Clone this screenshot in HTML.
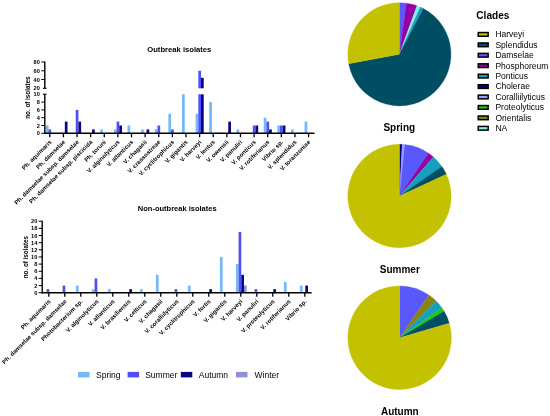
<!DOCTYPE html>
<html lang="en"><head><meta charset="utf-8"><title>Vibrio isolates by season and clade</title>
<style>html,body{margin:0;padding:0;background:#fff;overflow:hidden}svg{display:block}</style></head>
<body>
<svg width="550" height="416" viewBox="0 0 550 416" font-family='"Liberation Sans", Arial, Helvetica, sans-serif'>
<rect width="550" height="416" fill="#fff"/>
<g id="top-chart">
<text x="179.3" y="52" font-size="7.65" font-weight="bold" text-anchor="middle" fill="#000">Outbreak isolates</text>
<rect x="45.80" y="125.50" width="2.7" height="7.80" fill="#72b8fb"/>
<rect x="48.50" y="129.40" width="2.7" height="3.90" fill="#4f4ff7"/>
<rect x="64.82" y="121.60" width="2.7" height="11.70" fill="#08087f"/>
<rect x="75.74" y="109.90" width="2.7" height="23.40" fill="#4f4ff7"/>
<rect x="78.44" y="121.60" width="2.7" height="11.70" fill="#08087f"/>
<rect x="92.06" y="129.40" width="2.7" height="3.90" fill="#08087f"/>
<rect x="100.28" y="129.40" width="2.7" height="3.90" fill="#72b8fb"/>
<rect x="113.90" y="129.40" width="2.7" height="3.90" fill="#72b8fb"/>
<rect x="116.60" y="121.60" width="2.7" height="11.70" fill="#4f4ff7"/>
<rect x="119.30" y="125.50" width="2.7" height="7.80" fill="#08087f"/>
<rect x="127.52" y="125.50" width="2.7" height="7.80" fill="#72b8fb"/>
<rect x="141.14" y="129.40" width="2.7" height="3.90" fill="#72b8fb"/>
<rect x="146.54" y="129.40" width="2.7" height="3.90" fill="#08087f"/>
<rect x="154.76" y="129.40" width="2.7" height="3.90" fill="#72b8fb"/>
<rect x="157.46" y="125.50" width="2.7" height="7.80" fill="#4f4ff7"/>
<rect x="168.38" y="113.80" width="2.7" height="19.50" fill="#72b8fb"/>
<rect x="171.08" y="129.40" width="2.7" height="3.90" fill="#4f4ff7"/>
<rect x="182.00" y="94.30" width="2.7" height="39.00" fill="#72b8fb"/>
<rect x="195.62" y="113.80" width="2.7" height="19.50" fill="#72b8fb"/>
<rect x="198.32" y="94.30" width="2.7" height="39.00" fill="#4f4ff7"/>
<rect x="198.32" y="70.77" width="2.7" height="17.53" fill="#4f4ff7"/>
<rect x="201.02" y="94.30" width="2.7" height="39.00" fill="#08087f"/>
<rect x="201.02" y="77.78" width="2.7" height="10.52" fill="#08087f"/>
<rect x="209.24" y="102.10" width="2.7" height="31.20" fill="#72b8fb"/>
<rect x="228.26" y="121.60" width="2.7" height="11.70" fill="#08087f"/>
<rect x="236.48" y="129.40" width="2.7" height="3.90" fill="#72b8fb"/>
<rect x="252.80" y="125.50" width="2.7" height="7.80" fill="#4f4ff7"/>
<rect x="255.50" y="125.50" width="2.7" height="7.80" fill="#08087f"/>
<rect x="263.72" y="117.70" width="2.7" height="15.60" fill="#72b8fb"/>
<rect x="266.42" y="121.60" width="2.7" height="11.70" fill="#4f4ff7"/>
<rect x="269.12" y="129.40" width="2.7" height="3.90" fill="#08087f"/>
<rect x="277.34" y="125.50" width="2.7" height="7.80" fill="#72b8fb"/>
<rect x="280.04" y="125.50" width="2.7" height="7.80" fill="#4f4ff7"/>
<rect x="282.74" y="125.50" width="2.7" height="7.80" fill="#08087f"/>
<rect x="290.96" y="129.40" width="2.7" height="3.90" fill="#72b8fb"/>
<rect x="304.58" y="121.60" width="2.7" height="11.70" fill="#72b8fb"/>
<g stroke="#000" fill="none">
<line x1="44.8" y1="61.5" x2="44.8" y2="88.3" stroke-width="1.4"/>
<line x1="44.8" y1="94.2" x2="44.8" y2="134.0" stroke-width="1.4"/>
<line x1="42.9" y1="88.3" x2="46.6" y2="88.3" stroke-width="1.1"/>
<line x1="42.9" y1="94.2" x2="46.6" y2="94.2" stroke-width="1.1"/>
<line x1="44.099999999999994" y1="133.3" x2="314.5" y2="133.3" stroke-width="1.4"/>
<line x1="41.3" y1="62.00" x2="44.8" y2="62.00" stroke-width="1"/>
<line x1="41.3" y1="70.77" x2="44.8" y2="70.77" stroke-width="1"/>
<line x1="41.3" y1="79.53" x2="44.8" y2="79.53" stroke-width="1"/>
<line x1="41.3" y1="102.10" x2="44.8" y2="102.10" stroke-width="1"/>
<line x1="41.3" y1="109.90" x2="44.8" y2="109.90" stroke-width="1"/>
<line x1="41.3" y1="117.70" x2="44.8" y2="117.70" stroke-width="1"/>
<line x1="41.3" y1="125.50" x2="44.8" y2="125.50" stroke-width="1"/>
<line x1="41.3" y1="133.30" x2="44.8" y2="133.30" stroke-width="1"/>
<line x1="49.80" y1="133.3" x2="49.80" y2="137.3" stroke-width="1.3"/>
<line x1="63.42" y1="133.3" x2="63.42" y2="137.3" stroke-width="1.3"/>
<line x1="77.04" y1="133.3" x2="77.04" y2="137.3" stroke-width="1.3"/>
<line x1="90.66" y1="133.3" x2="90.66" y2="137.3" stroke-width="1.3"/>
<line x1="104.28" y1="133.3" x2="104.28" y2="137.3" stroke-width="1.3"/>
<line x1="117.90" y1="133.3" x2="117.90" y2="137.3" stroke-width="1.3"/>
<line x1="131.52" y1="133.3" x2="131.52" y2="137.3" stroke-width="1.3"/>
<line x1="145.14" y1="133.3" x2="145.14" y2="137.3" stroke-width="1.3"/>
<line x1="158.76" y1="133.3" x2="158.76" y2="137.3" stroke-width="1.3"/>
<line x1="172.38" y1="133.3" x2="172.38" y2="137.3" stroke-width="1.3"/>
<line x1="186.00" y1="133.3" x2="186.00" y2="137.3" stroke-width="1.3"/>
<line x1="199.62" y1="133.3" x2="199.62" y2="137.3" stroke-width="1.3"/>
<line x1="213.24" y1="133.3" x2="213.24" y2="137.3" stroke-width="1.3"/>
<line x1="226.86" y1="133.3" x2="226.86" y2="137.3" stroke-width="1.3"/>
<line x1="240.48" y1="133.3" x2="240.48" y2="137.3" stroke-width="1.3"/>
<line x1="254.10" y1="133.3" x2="254.10" y2="137.3" stroke-width="1.3"/>
<line x1="267.72" y1="133.3" x2="267.72" y2="137.3" stroke-width="1.3"/>
<line x1="281.34" y1="133.3" x2="281.34" y2="137.3" stroke-width="1.3"/>
<line x1="294.96" y1="133.3" x2="294.96" y2="137.3" stroke-width="1.3"/>
<line x1="308.58" y1="133.3" x2="308.58" y2="137.3" stroke-width="1.3"/>
</g>
<g font-size="6" font-weight="bold" fill="#000">
<text x="39.9" y="64.00" text-anchor="end" font-size="5.65">80</text>
<text x="39.9" y="72.77" text-anchor="end" font-size="5.65">60</text>
<text x="39.9" y="81.53" text-anchor="end" font-size="5.65">40</text>
<text x="39.9" y="90.30" text-anchor="end" font-size="5.65">20</text>
<text x="39.9" y="96.30" text-anchor="end" font-size="5.65">10</text>
<text x="39.9" y="104.10" text-anchor="end" font-size="5.65">8</text>
<text x="39.9" y="111.90" text-anchor="end" font-size="5.65">6</text>
<text x="39.9" y="119.70" text-anchor="end" font-size="5.65">4</text>
<text x="39.9" y="127.50" text-anchor="end" font-size="5.65">2</text>
<text x="39.9" y="135.30" text-anchor="end" font-size="5.65">0</text>
<text transform="translate(29.7,97.6) rotate(-90)" text-anchor="middle" font-size="6.3">no. of isolates</text>
<text transform="translate(52.00,142.50) rotate(-45)" text-anchor="end">Ph. aquimaris</text>
<text transform="translate(65.62,142.50) rotate(-45)" text-anchor="end">Ph. damselae</text>
<text transform="translate(79.24,142.50) rotate(-45)" text-anchor="end">Ph. damselae subsp. damselae</text>
<text transform="translate(92.86,142.50) rotate(-45)" text-anchor="end">Ph. damselae subsp. piscicida</text>
<text transform="translate(106.48,142.50) rotate(-45)" text-anchor="end">Ph. toruni</text>
<text transform="translate(120.10,142.50) rotate(-45)" text-anchor="end">V. alginolyticus</text>
<text transform="translate(133.72,142.50) rotate(-45)" text-anchor="end">V. atlanticus</text>
<text transform="translate(147.34,142.50) rotate(-45)" text-anchor="end">V. chagasii</text>
<text transform="translate(160.96,142.50) rotate(-45)" text-anchor="end">V. crassostreae</text>
<text transform="translate(174.58,142.50) rotate(-45)" text-anchor="end">V. cyclitrophicus</text>
<text transform="translate(188.20,142.50) rotate(-45)" text-anchor="end">V. gigantis</text>
<text transform="translate(201.82,142.50) rotate(-45)" text-anchor="end">V. harveyi</text>
<text transform="translate(215.44,142.50) rotate(-45)" text-anchor="end">V. lentus</text>
<text transform="translate(229.06,142.50) rotate(-45)" text-anchor="end">V. owensii</text>
<text transform="translate(242.68,142.50) rotate(-45)" text-anchor="end">V. panuliri</text>
<text transform="translate(256.30,142.50) rotate(-45)" text-anchor="end">V. ponticus</text>
<text transform="translate(269.92,142.50) rotate(-45)" text-anchor="end">V. rotiferianus</text>
<text transform="translate(283.54,142.50) rotate(-45)" text-anchor="end">Vibrio sp.</text>
<text transform="translate(297.16,142.50) rotate(-45)" text-anchor="end">V. splendidus</text>
<text transform="translate(310.78,142.50) rotate(-45)" text-anchor="end">V. toranzoniae</text>
</g>
</g>
<g id="bottom-chart">
<text x="177.2" y="210.9" font-size="7.5" font-weight="bold" text-anchor="middle" fill="#000">Non-outbreak isolates</text>
<rect x="46.60" y="289.12" width="2.7" height="3.58" fill="#4f4ff7"/>
<rect x="62.60" y="285.55" width="2.7" height="7.15" fill="#4f4ff7"/>
<rect x="75.90" y="285.55" width="2.7" height="7.15" fill="#72b8fb"/>
<rect x="91.90" y="289.12" width="2.7" height="3.58" fill="#72b8fb"/>
<rect x="94.60" y="278.40" width="2.7" height="14.30" fill="#4f4ff7"/>
<rect x="107.90" y="289.12" width="2.7" height="3.58" fill="#72b8fb"/>
<rect x="129.30" y="289.12" width="2.7" height="3.58" fill="#08087f"/>
<rect x="139.90" y="289.12" width="2.7" height="3.58" fill="#72b8fb"/>
<rect x="155.90" y="274.82" width="2.7" height="17.88" fill="#72b8fb"/>
<rect x="174.60" y="289.12" width="2.7" height="3.58" fill="#4f4ff7"/>
<rect x="187.90" y="285.55" width="2.7" height="7.15" fill="#72b8fb"/>
<rect x="209.30" y="289.12" width="2.7" height="3.58" fill="#08087f"/>
<rect x="219.90" y="256.95" width="2.7" height="35.75" fill="#72b8fb"/>
<rect x="235.90" y="264.10" width="2.7" height="28.60" fill="#72b8fb"/>
<rect x="238.60" y="231.92" width="2.7" height="60.78" fill="#4f4ff7"/>
<rect x="241.30" y="274.82" width="2.7" height="17.88" fill="#08087f"/>
<rect x="244.00" y="285.55" width="2.7" height="7.15" fill="#9090d6"/>
<rect x="254.60" y="289.12" width="2.7" height="3.58" fill="#4f4ff7"/>
<rect x="273.30" y="289.12" width="2.7" height="3.58" fill="#08087f"/>
<rect x="283.90" y="281.97" width="2.7" height="10.73" fill="#72b8fb"/>
<rect x="299.90" y="285.55" width="2.7" height="7.15" fill="#72b8fb"/>
<rect x="305.30" y="285.55" width="2.7" height="7.15" fill="#08087f"/>
<g stroke="#000" fill="none">
<line x1="42.2" y1="220.70" x2="42.2" y2="293.4" stroke-width="1.4"/>
<line x1="41.5" y1="292.7" x2="311.6" y2="292.7" stroke-width="1.4"/>
<line x1="38.7" y1="292.70" x2="42.2" y2="292.70" stroke-width="1"/>
<line x1="38.7" y1="285.55" x2="42.2" y2="285.55" stroke-width="1"/>
<line x1="38.7" y1="278.40" x2="42.2" y2="278.40" stroke-width="1"/>
<line x1="38.7" y1="271.25" x2="42.2" y2="271.25" stroke-width="1"/>
<line x1="38.7" y1="264.10" x2="42.2" y2="264.10" stroke-width="1"/>
<line x1="38.7" y1="256.95" x2="42.2" y2="256.95" stroke-width="1"/>
<line x1="38.7" y1="249.80" x2="42.2" y2="249.80" stroke-width="1"/>
<line x1="38.7" y1="242.65" x2="42.2" y2="242.65" stroke-width="1"/>
<line x1="38.7" y1="235.50" x2="42.2" y2="235.50" stroke-width="1"/>
<line x1="38.7" y1="228.35" x2="42.2" y2="228.35" stroke-width="1"/>
<line x1="38.7" y1="221.20" x2="42.2" y2="221.20" stroke-width="1"/>
<line x1="48.80" y1="292.7" x2="48.80" y2="296.7" stroke-width="1.3"/>
<line x1="64.80" y1="292.7" x2="64.80" y2="296.7" stroke-width="1.3"/>
<line x1="80.80" y1="292.7" x2="80.80" y2="296.7" stroke-width="1.3"/>
<line x1="96.80" y1="292.7" x2="96.80" y2="296.7" stroke-width="1.3"/>
<line x1="112.80" y1="292.7" x2="112.80" y2="296.7" stroke-width="1.3"/>
<line x1="128.80" y1="292.7" x2="128.80" y2="296.7" stroke-width="1.3"/>
<line x1="144.80" y1="292.7" x2="144.80" y2="296.7" stroke-width="1.3"/>
<line x1="160.80" y1="292.7" x2="160.80" y2="296.7" stroke-width="1.3"/>
<line x1="176.80" y1="292.7" x2="176.80" y2="296.7" stroke-width="1.3"/>
<line x1="192.80" y1="292.7" x2="192.80" y2="296.7" stroke-width="1.3"/>
<line x1="208.80" y1="292.7" x2="208.80" y2="296.7" stroke-width="1.3"/>
<line x1="224.80" y1="292.7" x2="224.80" y2="296.7" stroke-width="1.3"/>
<line x1="240.80" y1="292.7" x2="240.80" y2="296.7" stroke-width="1.3"/>
<line x1="256.80" y1="292.7" x2="256.80" y2="296.7" stroke-width="1.3"/>
<line x1="272.80" y1="292.7" x2="272.80" y2="296.7" stroke-width="1.3"/>
<line x1="288.80" y1="292.7" x2="288.80" y2="296.7" stroke-width="1.3"/>
<line x1="304.80" y1="292.7" x2="304.80" y2="296.7" stroke-width="1.3"/>
</g>
<g font-size="6" font-weight="bold" fill="#000">
<text x="37.400000000000006" y="294.70" text-anchor="end" font-size="5.65">0</text>
<text x="37.400000000000006" y="287.55" text-anchor="end" font-size="5.65">2</text>
<text x="37.400000000000006" y="280.40" text-anchor="end" font-size="5.65">4</text>
<text x="37.400000000000006" y="273.25" text-anchor="end" font-size="5.65">6</text>
<text x="37.400000000000006" y="266.10" text-anchor="end" font-size="5.65">8</text>
<text x="37.400000000000006" y="258.95" text-anchor="end" font-size="5.65">10</text>
<text x="37.400000000000006" y="251.80" text-anchor="end" font-size="5.65">12</text>
<text x="37.400000000000006" y="244.65" text-anchor="end" font-size="5.65">14</text>
<text x="37.400000000000006" y="237.50" text-anchor="end" font-size="5.65">16</text>
<text x="37.400000000000006" y="230.35" text-anchor="end" font-size="5.65">18</text>
<text x="37.400000000000006" y="223.20" text-anchor="end" font-size="5.65">20</text>
<text transform="translate(28.1,257.1) rotate(-90)" text-anchor="middle" font-size="6.3">no. of isolates</text>
<text transform="translate(51.00,301.90) rotate(-45)" text-anchor="end">Ph. aquimaris</text>
<text transform="translate(67.00,301.90) rotate(-45)" text-anchor="end">Ph. damselae subsp. damselae</text>
<text transform="translate(83.00,301.90) rotate(-45)" text-anchor="end">Photobacterium sp.</text>
<text transform="translate(99.00,301.90) rotate(-45)" text-anchor="end">V. alginolyticus</text>
<text transform="translate(115.00,301.90) rotate(-45)" text-anchor="end">V. atlanticus</text>
<text transform="translate(131.00,301.90) rotate(-45)" text-anchor="end">V. brasiliensis</text>
<text transform="translate(147.00,301.90) rotate(-45)" text-anchor="end">V. celticus</text>
<text transform="translate(163.00,301.90) rotate(-45)" text-anchor="end">V. chagasii</text>
<text transform="translate(179.00,301.90) rotate(-45)" text-anchor="end">V. coralliilyticus</text>
<text transform="translate(195.00,301.90) rotate(-45)" text-anchor="end">V. cyclitrophicus</text>
<text transform="translate(211.00,301.90) rotate(-45)" text-anchor="end">V. fortis</text>
<text transform="translate(227.00,301.90) rotate(-45)" text-anchor="end">V. gigantis</text>
<text transform="translate(243.00,301.90) rotate(-45)" text-anchor="end">V. harveyi</text>
<text transform="translate(259.00,301.90) rotate(-45)" text-anchor="end">V. panuliri</text>
<text transform="translate(275.00,301.90) rotate(-45)" text-anchor="end">V. proteolyticus</text>
<text transform="translate(291.00,301.90) rotate(-45)" text-anchor="end">V. rotiferianus</text>
<text transform="translate(307.00,301.90) rotate(-45)" text-anchor="end">Vibrio sp.</text>
</g>
</g>
<g id="season-legend" font-size="8.5" fill="#000">
<rect x="78" y="371.9" width="11.5" height="5.5" fill="#72b8fb"/>
<text x="96" y="377.7">Spring</text>
<rect x="127.6" y="371.9" width="11.5" height="5.5" fill="#4f4ff7"/>
<text x="145.2" y="377.7">Summer</text>
<rect x="180.8" y="371.9" width="11.5" height="5.5" fill="#08087f"/>
<text x="198.8" y="377.7">Autumn</text>
<rect x="236" y="371.9" width="11.5" height="5.5" fill="#9090d6"/>
<text x="254.5" y="377.7">Winter</text>
</g>
<g id="pies">
<path d="M399.4,54.3 L399.40,2.70 A51.6,51.6 0 0 1 406.49,3.19 Z" fill="#5858fc" stroke="#5858fc" stroke-width="0.3"/>
<path d="M399.4,54.3 L406.49,3.19 A51.6,51.6 0 0 1 416.96,5.78 Z" fill="#9400a3" stroke="#9400a3" stroke-width="0.3"/>
<path d="M399.4,54.3 L416.96,5.78 A51.6,51.6 0 0 1 420.31,7.12 Z" fill="#86efe6" stroke="#86efe6" stroke-width="0.3"/>
<path d="M399.4,54.3 L420.31,7.12 A51.6,51.6 0 0 1 423.39,8.61 Z" fill="#14a0be" stroke="#14a0be" stroke-width="0.3"/>
<path d="M399.4,54.3 L423.39,8.61 A51.6,51.6 0 1 1 348.68,63.79 Z" fill="#004e63" stroke="#004e63" stroke-width="0.3"/>
<path d="M399.4,54.3 L348.68,63.79 A51.6,51.6 0 0 1 399.40,2.70 Z" fill="#c4c100" stroke="#c4c100" stroke-width="0.3"/>
<path d="M399.5,196.0 L399.50,144.30 A51.7,51.7 0 0 1 402.21,144.37 Z" fill="#00008a" stroke="#00008a" stroke-width="0.3"/>
<path d="M399.5,196.0 L402.21,144.37 A51.7,51.7 0 0 1 404.81,144.57 Z" fill="#9d9dfb" stroke="#9d9dfb" stroke-width="0.3"/>
<path d="M399.5,196.0 L404.81,144.57 A51.7,51.7 0 0 1 428.49,153.19 Z" fill="#5858fc" stroke="#5858fc" stroke-width="0.3"/>
<path d="M399.5,196.0 L428.49,153.19 A51.7,51.7 0 0 1 433.42,156.98 Z" fill="#9400a3" stroke="#9400a3" stroke-width="0.3"/>
<path d="M399.5,196.0 L433.42,156.98 A51.7,51.7 0 0 1 441.90,166.42 Z" fill="#14a0be" stroke="#14a0be" stroke-width="0.3"/>
<path d="M399.5,196.0 L441.90,166.42 A51.7,51.7 0 0 1 446.36,174.15 Z" fill="#004e63" stroke="#004e63" stroke-width="0.3"/>
<path d="M399.5,196.0 L446.36,174.15 A51.7,51.7 0 1 1 399.50,144.30 Z" fill="#c4c100" stroke="#c4c100" stroke-width="0.3"/>
<path d="M399.6,337.7 L399.60,285.90 A51.8,51.8 0 0 1 428.94,295.01 Z" fill="#5858fc" stroke="#5858fc" stroke-width="0.3"/>
<path d="M399.6,337.7 L428.94,295.01 A51.8,51.8 0 0 1 436.16,301.01 Z" fill="#8a8214" stroke="#8a8214" stroke-width="0.3"/>
<path d="M399.6,337.7 L436.16,301.01 A51.8,51.8 0 0 1 441.82,307.69 Z" fill="#14a0be" stroke="#14a0be" stroke-width="0.3"/>
<path d="M399.6,337.7 L441.82,307.69 A51.8,51.8 0 0 1 444.19,311.33 Z" fill="#19c819" stroke="#19c819" stroke-width="0.3"/>
<path d="M399.6,337.7 L444.19,311.33 A51.8,51.8 0 0 1 449.32,323.16 Z" fill="#004e63" stroke="#004e63" stroke-width="0.3"/>
<path d="M399.6,337.7 L449.32,323.16 A51.8,51.8 0 1 1 399.60,285.90 Z" fill="#c4c100" stroke="#c4c100" stroke-width="0.3"/>
<g font-size="10" font-weight="bold" text-anchor="middle" fill="#000">
<text x="399.3" y="130.6">Spring</text>
<text x="399.8" y="272.8">Summer</text>
<text x="399.8" y="414.7">Autumn</text>
</g></g>
<g id="clades-legend">
<text x="476.3" y="18.8" font-size="10.1" font-weight="bold" fill="#000">Clades</text>
<g font-size="8.5" fill="#000">
<rect x="478.25" y="32.55" width="9.9" height="3.7" fill="#c4c100" stroke="#000" stroke-width="1.5"/>
<text x="495.4" y="37.30">Harveyi</text>
<rect x="478.25" y="42.98" width="9.9" height="3.7" fill="#004e63" stroke="#000" stroke-width="1.5"/>
<text x="495.4" y="47.73">Splendidus</text>
<rect x="478.25" y="53.41" width="9.9" height="3.7" fill="#5858fc" stroke="#000" stroke-width="1.5"/>
<text x="495.4" y="58.16">Damselae</text>
<rect x="478.25" y="63.84" width="9.9" height="3.7" fill="#9400a3" stroke="#000" stroke-width="1.5"/>
<text x="495.4" y="68.59">Phosphoreum</text>
<rect x="478.25" y="74.27" width="9.9" height="3.7" fill="#14a0be" stroke="#000" stroke-width="1.5"/>
<text x="495.4" y="79.02">Ponticus</text>
<rect x="478.25" y="84.70" width="9.9" height="3.7" fill="#00008a" stroke="#000" stroke-width="1.5"/>
<text x="495.4" y="89.45">Cholerae</text>
<rect x="478.25" y="95.13" width="9.9" height="3.7" fill="#9d9dfb" stroke="#000" stroke-width="1.5"/>
<text x="495.4" y="99.88">Coralliilyticus</text>
<rect x="478.25" y="105.56" width="9.9" height="3.7" fill="#19c819" stroke="#000" stroke-width="1.5"/>
<text x="495.4" y="110.31">Proteolyticus</text>
<rect x="478.25" y="115.99" width="9.9" height="3.7" fill="#8a8214" stroke="#000" stroke-width="1.5"/>
<text x="495.4" y="120.74">Orientalis</text>
<rect x="478.25" y="126.42" width="9.9" height="3.7" fill="#86efe6" stroke="#000" stroke-width="1.5"/>
<text x="495.4" y="131.17">NA</text>
</g></g>
</svg>
</body></html>
